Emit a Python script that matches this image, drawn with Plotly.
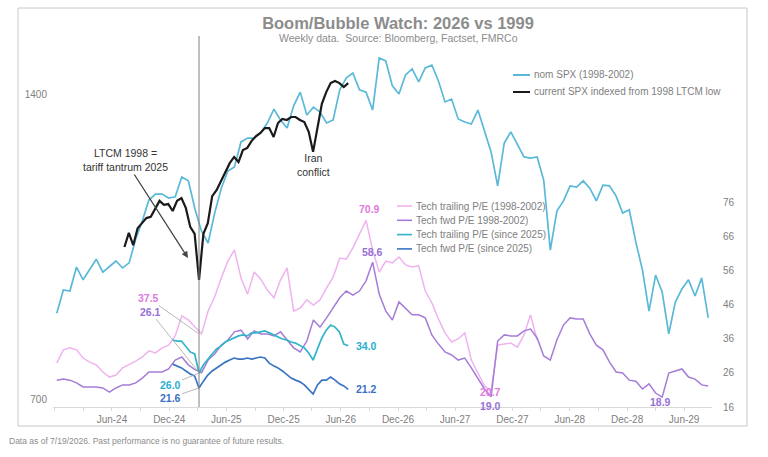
import pandas as pd
import plotly.graph_objects as go

# 1998-2002 history laid onto today's calendar (LTCM low = tariff tantrum low)
# sampled every 3 weeks
hist_start = "2023-12-08"
nom_spx = [852, 898, 896, 946, 919, 940, 963, 935, 948, 959,
           944, 955, 1008, 1050, 1101, 1116, 1116, 1106, 1109, 1160,
           1150, 1079, 1026, 999, 1069, 1131, 1176, 1187, 1256, 1267,
           1267, 1282, 1311, 1353, 1320, 1296, 1363, 1406, 1335, 1359,
           1344, 1311, 1320, 1413, 1452, 1468, 1413, 1406, 1350, 1519,
           1509, 1426, 1400, 1462, 1482, 1439, 1485, 1495, 1442, 1375,
           1384, 1323, 1314, 1308, 1350, 1288, 1228, 1137, 1253, 1285,
           1247, 1214, 1211, 1214, 1152, 983, 1074, 1099, 1137, 1134,
           1150, 1131, 1099, 1139, 1137, 1111, 1069, 1077, 1001, 940,
           856, 929, 894, 813, 874, 900, 919, 886, 923, 843]

tech_trailing_pe_9802 = [28.9, 32.8, 33.4, 32.8, 30.4, 29.2, 28.4, 26.3, 24.8, 25.4,
                         27.5, 28.4, 29.5, 30.7, 32.5, 31.9, 33.4, 34.2, 36.9, 42.8,
                         41.6, 39.5, 37.5, 44.2, 48.4, 53.9, 58.9, 62.2, 53.9, 49.2,
                         55.7, 53.6, 50.4, 48.1, 53.4, 56.9, 44.2, 45.1, 47.5, 46.0,
                         47.5, 51.0, 54.2, 59.8, 59.5, 62.8, 66.9, 70.9, 62.2, 55.7,
                         58.9, 58.4, 60.1, 57.8, 57.2, 57.5, 50.1, 46.6, 41.9, 37.8,
                         35.1, 36.0, 37.8, 29.8, 26.0, 22.2, 20.7, 34.2, 34.5, 34.8,
                         33.6, 37.2, 43.1, 35.7]

tech_fwd_pe_9802 = [23.9, 24.2, 23.9, 23.1, 21.9, 21.9, 21.9, 21.6, 20.4, 21.6,
                    22.5, 22.5, 23.1, 24.5, 26.3, 26.3, 26.3, 27.2, 29.8, 30.7,
                    28.4, 27.0, 26.1, 29.8, 31.6, 34.2, 35.7, 38.1, 38.6, 36.0,
                    38.4, 37.5, 37.5, 36.9, 38.1, 35.7, 33.4, 32.2, 35.4, 41.6,
                    39.5, 42.2, 45.1, 48.1, 50.1, 48.9, 50.1, 53.1, 58.6, 49.2,
                    44.2, 41.6, 46.9, 45.1, 43.1, 43.1, 42.2, 37.2, 34.5, 32.2,
                    31.3, 29.8, 30.4, 27.5, 24.2, 21.3, 19.0, 35.4, 37.2, 36.9,
                    36.9, 38.4, 38.9, 36.3, 31.0, 29.8, 35.7, 40.1, 42.2, 41.9,
                    41.9, 37.5, 34.2, 32.8, 29.2, 26.3, 26.0, 23.9, 23.6, 21.3,
                    22.8, 20.1, 18.9, 26.0, 26.6, 27.2, 24.8, 24.2, 22.5, 22.2]

# current cycle, sampled every 2 weeks
cur_start = "2024-07-11"
cur_spx = [990, 1022, 994, 1033, 1045, 1057, 1060, 1079, 1099, 1089,
           1091, 1074, 1099, 1106, 1081, 1036, 1020, 919, 1020, 1045,
           1111, 1126, 1150, 1173, 1197, 1214, 1200, 1233, 1239, 1259,
           1273, 1282, 1296, 1296, 1270, 1311, 1323, 1320, 1329, 1329,
           1320, 1314, 1285, 1228, 1296, 1369, 1406, 1435, 1442, 1435,
           1422, 1435]

pe25_start = "2024-12-12"
tech_trailing_pe_25 = [35.7, 35.4, 35.4, 33.9, 32.2, 31.6, 26.0, 28.4, 30.1, 31.6,
                       33.1, 33.9, 35.1, 35.7, 36.3, 36.9, 37.2, 36.9, 37.8, 37.8,
                       38.1, 38.4, 37.8, 37.2, 36.6, 36.0, 35.7, 35.1, 34.8, 34.2,
                       33.4, 31.9, 29.8, 33.1, 36.3, 38.6, 40.1, 39.5, 38.1, 34.5,
                       34.0]
tech_fwd_pe_25 = [28.6, 28.1, 27.5, 26.6, 25.7, 25.1, 21.6, 23.6, 25.4, 26.6,
                  27.5, 28.4, 29.2, 29.8, 30.4, 30.1, 30.1, 30.4, 30.1, 30.4,
                  30.7, 30.4, 28.9, 28.1, 27.5, 26.6, 25.4, 24.5, 23.9, 23.4,
                  22.5, 21.3, 19.8, 22.5, 23.9, 23.9, 24.8, 23.9, 22.8, 22.2,
                  21.2]

spx_ticks = [700, 1400]
pe_ticks = [16, 26, 36, 46, 56, 66, 76]
date_ticks = ["2024-06-01", "2024-12-01", "2025-06-01", "2025-12-01", "2026-06-01",
              "2026-12-01", "2027-06-01", "2027-12-01", "2028-06-01", "2028-12-01",
              "2029-06-01"]

hist_dates = pd.date_range(hist_start, periods=len(nom_spx), freq="21D")
cur_dates = pd.date_range(cur_start, periods=len(cur_spx), freq="14D")
pe25_dates = pd.date_range(pe25_start, periods=len(tech_fwd_pe_25), freq="14D")

# colours
C_SPX = "#5ab9d8"
C_CUR = "#1a1a1a"
C_TRAIL = "#efb3ef"
C_FWD = "#a57dd8"
C_TRAIL25 = "#2fb4c8"
C_FWD25 = "#3a74c4"
L_TRAIL = "#e07ade"
L_FWD = "#9a70d8"
L_TRAIL25 = "#2aaed0"
L_FWD25 = "#3a6fc4"
GREY = "#808080"
FONT = "Liberation Sans, Arial, sans-serif"

# plot area in pixels: x 53..712, y 36..407
def px(x):
    return (x - 53) / 659

def py(y):
    return (407 - y) / 371

fig = go.Figure()

fig.add_trace(go.Scatter(x=hist_dates, y=nom_spx, mode="lines",
                         line=dict(color=C_SPX, width=1.7), yaxis="y"))
fig.add_trace(go.Scatter(x=cur_dates, y=cur_spx, mode="lines",
                         line=dict(color=C_CUR, width=2.2), yaxis="y"))
fig.add_trace(go.Scatter(x=hist_dates[:len(tech_trailing_pe_9802)], y=tech_trailing_pe_9802,
                         mode="lines", line=dict(color=C_TRAIL, width=1.5), yaxis="y2"))
fig.add_trace(go.Scatter(x=hist_dates, y=tech_fwd_pe_9802, mode="lines",
                         line=dict(color=C_FWD, width=1.5), yaxis="y2"))
fig.add_trace(go.Scatter(x=pe25_dates, y=tech_trailing_pe_25, mode="lines",
                         line=dict(color=C_TRAIL25, width=1.7), yaxis="y2"))
fig.add_trace(go.Scatter(x=pe25_dates, y=tech_fwd_pe_25, mode="lines",
                         line=dict(color=C_FWD25, width=1.7), yaxis="y2"))

# tariff tantrum low = LTCM low
low_i = cur_spx.index(min(cur_spx))
vline_date = cur_dates[low_i]


def nearest(dates, values, when):
    i = min(range(len(values)), key=lambda k: abs((dates[k] - when).days))
    return values[i]


shapes = [
    dict(type="line", xref="x", yref="paper", x0=vline_date, x1=vline_date, y0=0, y1=1,
         line=dict(color=GREY, width=1)),
    # light frame round the whole chart
    dict(type="line", xref="paper", yref="paper", x0=px(18), x1=px(747), y0=py(8), y1=py(8),
         line=dict(color="#c8c8c8", width=1)),
    dict(type="line", xref="paper", yref="paper", x0=px(18), x1=px(747), y0=py(426), y1=py(426),
         line=dict(color="#c8c8c8", width=1)),
    dict(type="line", xref="paper", yref="paper", x0=px(18), x1=px(18), y0=py(8), y1=py(426),
         line=dict(color="#c8c8c8", width=1)),
    dict(type="line", xref="paper", yref="paper", x0=px(747), x1=px(747), y0=py(8), y1=py(426),
         line=dict(color="#c8c8c8", width=1)),
]

annotations = []

# legends drawn by hand (short line samples, tight spacing)
legend1 = [("nom SPX (1998-2002)", C_SPX), ("current SPX indexed from 1998 LTCM low", C_CUR)]
for i, (name, col) in enumerate(legend1):
    yy = py(75 + 17 * i)
    shapes.append(dict(type="line", xref="paper", yref="paper", x0=px(513), x1=px(530),
                       y0=yy, y1=yy, line=dict(color=col, width=2)))
    annotations.append(dict(xref="paper", yref="paper", x=px(532), y=yy, text=name,
                            showarrow=False, xanchor="left", yanchor="middle",
                            font=dict(size=10, color=GREY)))

legend2 = [("Tech trailing P/E (1998-2002)", C_TRAIL), ("Tech fwd P/E 1998-2002)", C_FWD),
           ("Tech trailing P/E (since 2025)", C_TRAIL25), ("Tech fwd P/E (since 2025)", C_FWD25)]
for i, (name, col) in enumerate(legend2):
    yy = py(206 + 14.3 * i)
    shapes.append(dict(type="line", xref="paper", yref="paper", x0=px(397), x1=px(412),
                       y0=yy, y1=yy, line=dict(color=col, width=1.6)))
    annotations.append(dict(xref="paper", yref="paper", x=px(414), y=yy, text=name,
                            showarrow=False, xanchor="left", yanchor="middle",
                            font=dict(size=10, color=GREY)))

# leader labels at the low
leaders = [
    (nearest(hist_dates, tech_trailing_pe_9802, vline_date), L_TRAIL, -51, -36),
    (nearest(hist_dates, tech_fwd_pe_9802, vline_date), L_FWD, -49, -61),
    (nearest(pe25_dates, tech_trailing_pe_25, vline_date), L_TRAIL25, -29, 12),
    (nearest(pe25_dates, tech_fwd_pe_25, vline_date), L_FWD25, -29, 10),
]
for val, col, ax, ay in leaders:
    annotations.append(dict(x=vline_date, y=val, xref="x", yref="y2",
                            text=f"<b>{val:.1f}</b>", showarrow=True, arrowhead=0,
                            arrowwidth=0.8, arrowcolor="#a6a6a6", ax=ax, ay=ay,
                            font=dict(size=10.5, color=col)))


def val_label(dates, values, i, col, xshift=0, yshift=0, xanchor="center"):
    return dict(x=dates[i], y=values[i], xref="x", yref="y2", text=f"<b>{values[i]:.1f}</b>",
                showarrow=False, xanchor=xanchor, yanchor="middle", xshift=xshift, yshift=yshift,
                font=dict(size=10.5, color=col))


tr = tech_trailing_pe_9802
fw = tech_fwd_pe_9802
fw_first = fw[:80]
fw_late = fw[80:]
annotations += [
    val_label(hist_dates, tr, tr.index(max(tr)), L_TRAIL, xshift=3, yshift=11),
    val_label(hist_dates, fw, fw.index(max(fw)), L_FWD, yshift=10),
    val_label(hist_dates, tr, tr.index(min(tr)), L_TRAIL, xshift=-1, yshift=-1),
    val_label(hist_dates, fw, fw_first.index(min(fw_first)), L_FWD, xshift=-1, yshift=-9),
    val_label(hist_dates, fw, 80 + fw_late.index(min(fw_late)), L_FWD, xshift=-2, yshift=-5),
    val_label(pe25_dates, tech_trailing_pe_25, len(tech_trailing_pe_25) - 1, L_TRAIL25,
              xshift=6, xanchor="left"),
    val_label(pe25_dates, tech_fwd_pe_25, len(tech_fwd_pe_25) - 1, L_FWD25,
              xshift=6, xanchor="left"),
]

# text notes
annotations += [
    dict(xref="paper", yref="paper", x=px(188), y=py(258), ax=-63, ay=-98,
         text="LTCM 1998 =<br>tariff tantrum 2025", showarrow=True, arrowhead=2,
         arrowsize=1, arrowwidth=1.3, arrowcolor="#444444",
         font=dict(size=10.5, color="#333333")),
    dict(xref="paper", yref="paper", x=px(313), y=py(165), text="Iran<br>conflict",
         showarrow=False, font=dict(size=10.5, color="#333333")),
    dict(xref="paper", yref="paper", x=px(398), y=py(38),
         text="Weekly data.  Source: Bloomberg, Factset, FMRCo", showarrow=False,
         xanchor="center", yanchor="middle", font=dict(size=10.5, color="#8c8c8c")),
    dict(xref="paper", yref="paper", x=px(7), y=py(441), xanchor="left", yanchor="middle",
         text="Data as of 7/19/2026. Past performance is no guarantee of future results.",
         showarrow=False, font=dict(size=8.5, color="#8c8c8c")),
]

fig.update_layout(
    width=768, height=457,
    margin=dict(l=53, r=56, t=36, b=50),
    paper_bgcolor="white", plot_bgcolor="white",
    showlegend=False,
    font=dict(family=FONT, color=GREY),
    title=dict(text="<b>Boom/Bubble Watch: 2026 vs 1999</b>", x=398 / 768, xref="container",
               xanchor="center", y=1 - 23 / 457, yref="container", yanchor="middle",
               font=dict(size=16.5, color="#8c8c8c", family=FONT)),
    xaxis=dict(type="date", range=["2023-11-26", "2029-08-29"], tickvals=date_ticks,
               tickformat="%b-%y", showgrid=False, zeroline=False,
               showline=True, linecolor="#d9d9d9", linewidth=1,
               ticks="outside", ticklen=3, tickcolor="#d9d9d9",
               minor=dict(dtick="M3", tick0="2023-12-01", ticks="outside", ticklen=3,
                          tickcolor="#d9d9d9", showgrid=False),
               tickfont=dict(size=10, color=GREY)),
    yaxis=dict(type="log", range=[2.8382, 3.2032], tickvals=spx_ticks,
               ticktext=[str(v) for v in spx_ticks], showgrid=False, zeroline=False,
               showline=False, ticks="", ticklabelstandoff=5,
               tickfont=dict(size=10, color=GREY)),
    yaxis2=dict(overlaying="y", side="right", range=[16, 125.1], tickvals=pe_ticks,
                showgrid=False, zeroline=False, showline=False, ticks="",
                ticklabelstandoff=10, tickfont=dict(size=10, color=GREY)),
    shapes=shapes,
    annotations=annotations,
)

# the page's default body margin would push the figure 8px off
fig.write_html("out.html", config={"displayModeBar": False},
               post_script="document.body.style.margin='0';")
